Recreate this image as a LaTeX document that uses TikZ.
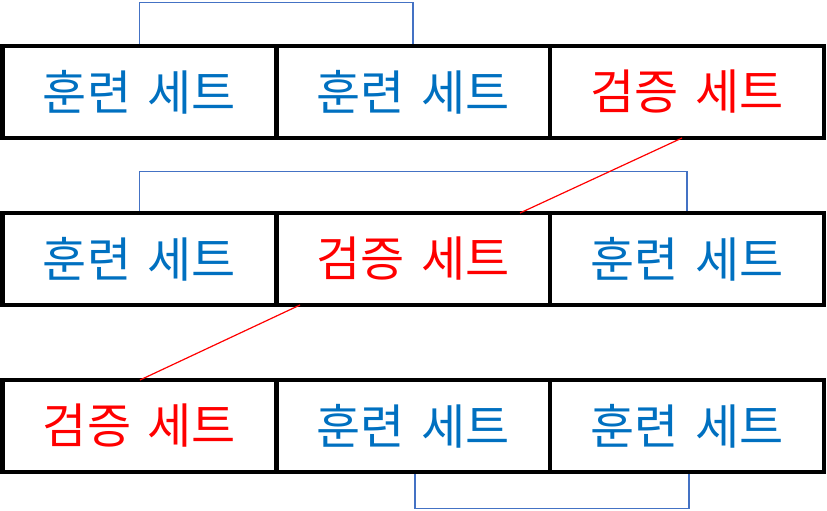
\documentclass[tikz,border=0pt]{standalone}
\usepackage{fontspec}
\newfontfamily\kr{Noto Sans CJK KR}
\definecolor{tblue}{HTML}{0070C0}
\definecolor{bblue}{HTML}{4472C4}
\begin{document}
\begin{tikzpicture}[x=1pt,y=-1pt,
  cell/.style={draw=black,line width=4.5pt,minimum width=274pt,minimum height=92pt,inner sep=0pt,font=\kr\fontsize{48}{52}\selectfont},
  tr/.style={cell,text=tblue},
  va/.style={cell,text=red},
  br/.style={draw=bblue,line width=1.2pt},
  rl/.style={draw=red,line width=1.2pt}]
\useasboundingbox (0,0) rectangle (827,511);
\node[tr] (a1) at (139.5,92) {훈련\hspace{0.12em} 세트};
\node[tr] (a2) at (413,92) {훈련\hspace{0.12em} 세트};
\node[va] (a3) at (687,92) {검증\hspace{0.12em} 세트};
\node[tr] (b1) at (139.5,259) {훈련\hspace{0.12em} 세트};
\node[va] (b2) at (413,259) {검증\hspace{0.12em} 세트};
\node[tr] (b3) at (687,259) {훈련\hspace{0.12em} 세트};
\node[va] (c1) at (139.5,426) {검증\hspace{0.12em} 세트};
\node[tr] (c2) at (413,426) {훈련\hspace{0.12em} 세트};
\node[tr] (c3) at (687,426) {훈련\hspace{0.12em} 세트};
\draw[br] (a1.north) -- ++(0,-41) -| (a2.north);
\draw[br] (b1.north) -- ++(0,-39) -| (b3.north);
\draw[br] (c2.south) ++(2,0) coordinate (s1) -- ++(0,34) -| ([xshift=2pt]c3.south);
\coordinate (r1) at (682,138); \coordinate (r2) at (520,213);
\coordinate (r3) at (300,305); \coordinate (r4) at (140,380);
\draw[rl] (r1) -- (r2);
\draw[rl] (r3) -- (r4);
\end{tikzpicture}
\end{document}
